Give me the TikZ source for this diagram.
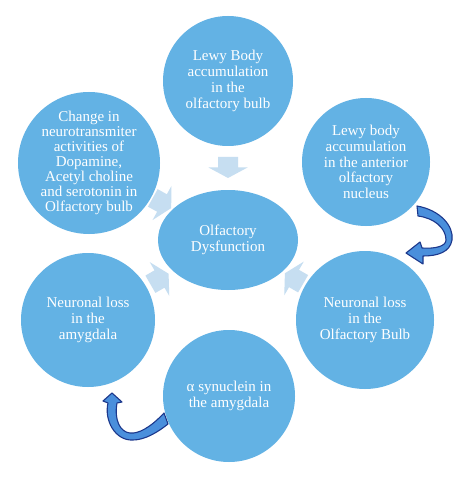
\documentclass[tikz,border=0pt]{standalone}
\usepackage{fontspec}
\setmainfont{Liberation Serif}
\definecolor{circc}{RGB}{99,178,228}
\definecolor{arrowc}{RGB}{198,222,241}
\definecolor{curvfill}{RGB}{74,143,220}
\definecolor{curvline}{RGB}{28,56,140}
\tikzset{
  bubble/.style={circle, fill=circc, draw=none, text=white, align=center, inner sep=0pt,
    font=\fontsize{15}{15.8}\selectfont},
  hub/.style={ellipse, fill=circc, draw=none, text=white, align=center, inner sep=0pt,
    minimum width=140pt, minimum height=100pt, font=\fontsize{15}{15.5}\selectfont},
  smallarrow/.style={fill=arrowc, draw=none},
  curvarrow/.style={fill=curvfill, draw=curvline, line width=1.1pt, line join=round}
}
\usetikzlibrary{shapes.geometric}
\begin{document}
\begin{tikzpicture}[x=1pt,y=-1pt]
\useasboundingbox[fill=white] (0,0) rectangle (474,478);
% small light arrows pointing to the centre
\foreach \px/\py/\rot in {228/167.5/-90, 162/203/-29, 159.5/279/30, 294/278.5/150}{
  \begin{scope}[shift={(\px,\py)}, rotate=\rot]
    \fill[smallarrow] (-10.5,-10) -- (0,-10) -- (0,-19.5) -- (10.5,0) -- (0,19.5) -- (0,10) -- (-10.5,10) -- cycle;
  \end{scope}
}
% circles
\node[bubble, minimum size=130pt, font=\fontsize{15}{16}\selectfont] (top) at (228,81) {Lewy Body\\accumulation\\in the\\olfactory bulb};
\node[bubble, minimum size=142pt, font=\fontsize{15}{15}\selectfont] (lt) at (89,163) {Change in\\neurotransmiter\\activities of\\Dopamine,\\Acetyl choline\\and serotonin in\\Olfactory bulb};
\node[bubble, minimum size=128pt] (rt) at (366,162) {Lewy body\\accumulation\\in the anterior\\olfactory\\nucleus};
\node[hub] (hub) at (228,240) {Olfactory\\Dysfunction};
\node[bubble, minimum size=134pt, font=\fontsize{15}{16}\selectfont] (lb) at (88,320) {Neuronal loss\\in the\\amygdala};
\node[bubble, minimum size=138pt, font=\fontsize{15}{16}\selectfont] (rb) at (365,320) {Neuronal loss\\in the\\Olfactory Bulb};
\node[bubble, minimum size=132pt, font=\fontsize{15}{16}\selectfont] (bot) at (229,396) {α synuclein in\\the amygdala};
% curved arrows
\draw[curvarrow] (417,206) .. controls (440,210) and (454,226) .. (452,240)
  .. controls (450,252) and (438,256) .. (423,256) -- (423,264) -- (406,253) -- (420,242) -- (422,248)
  .. controls (436,249) and (446,246) .. (446,240)
  .. controls (446,228) and (434,218) .. (418,216) -- cycle;
\draw[curvarrow] (164,413) .. controls (150,428) and (138,434) .. (130,433)
  .. controls (120,432) and (114,420) .. (117,403) -- (122,402) -- (112,393) -- (103,401) -- (108,403)
  .. controls (104,420) and (115,441) .. (133,440)
  .. controls (145,440) and (158,432) .. (168,424) -- cycle;
\end{tikzpicture}
\end{document}
